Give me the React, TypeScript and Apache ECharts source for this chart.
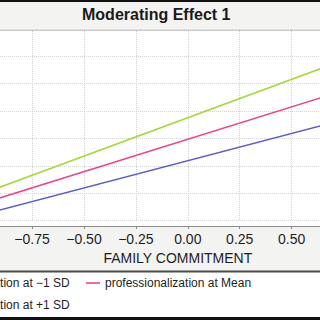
import React, { useEffect, useRef } from "react";
import * as echarts from "echarts";

// x values of the plotted simple slopes (family commitment, centred)
const xValues = [-1, 0.75];
// predicted values for each moderator level
const lowSDValues = [0.19, 3.68];
const meanValues = [0.6, 4.75];
const highSDValues = [0.95, 5.86];

const seriesNames = [
  "professionalization at \u22121 SD",
  "professionalization at Mean",
  "professionalization at +1 SD",
];
const seriesColors = ["#5a5ec0", "#e6488c", "#a4d83c"];
const titleText = "Moderating Effect 1";
const xAxisName = "FAMILY COMMITMENT";

const FONT = "Liberation Sans, Arial, Helvetica, sans-serif";

export default function App() {
  const ref = useRef<HTMLDivElement>(null);

  useEffect(() => {
    if (!ref.current) return;
    const chart = echarts.init(ref.current, undefined, { renderer: "svg" });
    const toPairs = (ys: number[]) => xValues.map((x, i) => [x, ys[i]]);
    const allValues = [lowSDValues, meanValues, highSDValues];

    const legendCommon = {
      orient: "horizontal" as const,
      padding: 0,
      icon: "rect",
      itemWidth: 14,
      itemHeight: 1.6,
      selectedMode: false,
      textStyle: { fontSize: 12, color: "#1e1e1e", fontFamily: FONT },
    };

    chart.setOption({
      animation: false,
      backgroundColor: "#f3f3f1",
      title: {
        text: titleText,
        left: 82,
        top: 6,
        padding: 0,
        textStyle: { fontSize: 16, fontWeight: "bold", color: "#1a1a1a", fontFamily: FONT },
      },
      legend: [
        { ...legendCommon, data: [seriesNames[0]], left: -99, top: 277 },
        { ...legendCommon, data: [seriesNames[1]], left: 86, top: 277 },
        { ...legendCommon, data: [seriesNames[2]], left: -99, top: 299 },
      ],
      grid: {
        left: -19.9,
        right: -23.6,
        top: 29,
        bottom: 99.5,
        containLabel: false,
        outerBoundsMode: "none",
      },
      xAxis: {
        type: "value",
        min: -1,
        max: 0.75,
        interval: 0.25,
        offset: 5.5,
        name: xAxisName,
        nameLocation: "middle",
        nameGap: 25,
        nameTextStyle: { fontSize: 14, color: "#1e1e1e", fontFamily: FONT, padding: [0, 0, 0, 32] },
        axisLine: { onZero: false, lineStyle: { color: "#8c8c8c", width: 1 } },
        axisTick: { show: true, length: 3, lineStyle: { color: "#8c8c8c" } },
        axisLabel: {
          showMinLabel: false,
          showMaxLabel: false,
          fontSize: 14,
          color: "#1e1e1e",
          fontFamily: FONT,
          margin: 6,
          formatter: (v: number) =>
            v < 0 ? "\u2212" + Math.abs(v).toFixed(2) : v.toFixed(2),
        },
        splitLine: { show: true, lineStyle: { type: "dotted", color: "#d2d2d2", width: 1 } },
      },
      yAxis: {
        type: "value",
        min: 0,
        max: 7,
        interval: 1,
        axisLine: { show: false },
        axisTick: { show: false },
        axisLabel: { show: false },
        splitLine: { show: true, lineStyle: { type: "dotted", color: "#d2d2d2", width: 1 } },
      },
      graphic: [
        { type: "rect", z: -1, shape: { x: 0, y: 0, width: 320, height: 2 }, style: { fill: "#111" } },
        { type: "rect", z: -1, shape: { x: 0, y: 31, width: 320, height: 195 }, style: { fill: "#ffffff" } },
        {
          type: "line",
          z: -1,
          shape: { x1: 0, y1: 30.5, x2: 320, y2: 30.5 },
          style: { stroke: "#c8c8c8", lineWidth: 1 },
        },
        { type: "rect", z: -1, shape: { x: 0, y: 272, width: 320, height: 45 }, style: { fill: "#ffffff" } },
        {
          type: "line",
          z: -1,
          shape: { x1: 0, y1: 271.5, x2: 320, y2: 271.5 },
          style: { stroke: "#4a4a4a", lineWidth: 2 },
        },
        { type: "rect", z: -1, shape: { x: 0, y: 317, width: 320, height: 3 }, style: { fill: "#111" } },
      ],
      series: allValues.map((vals, i) => ({
        name: seriesNames[i],
        type: "line",
        data: toPairs(vals),
        symbol: "none",
        showSymbol: false,
        clip: true,
        color: seriesColors[i],
        lineStyle: { color: seriesColors[i], width: 1.5 },
      })),
    });

    return () => chart.dispose();
  }, []);

  return (
    <div
      ref={ref}
      style={{ position: "fixed", left: 0, top: 0, width: 320, height: 320 }}
    />
  );
}
